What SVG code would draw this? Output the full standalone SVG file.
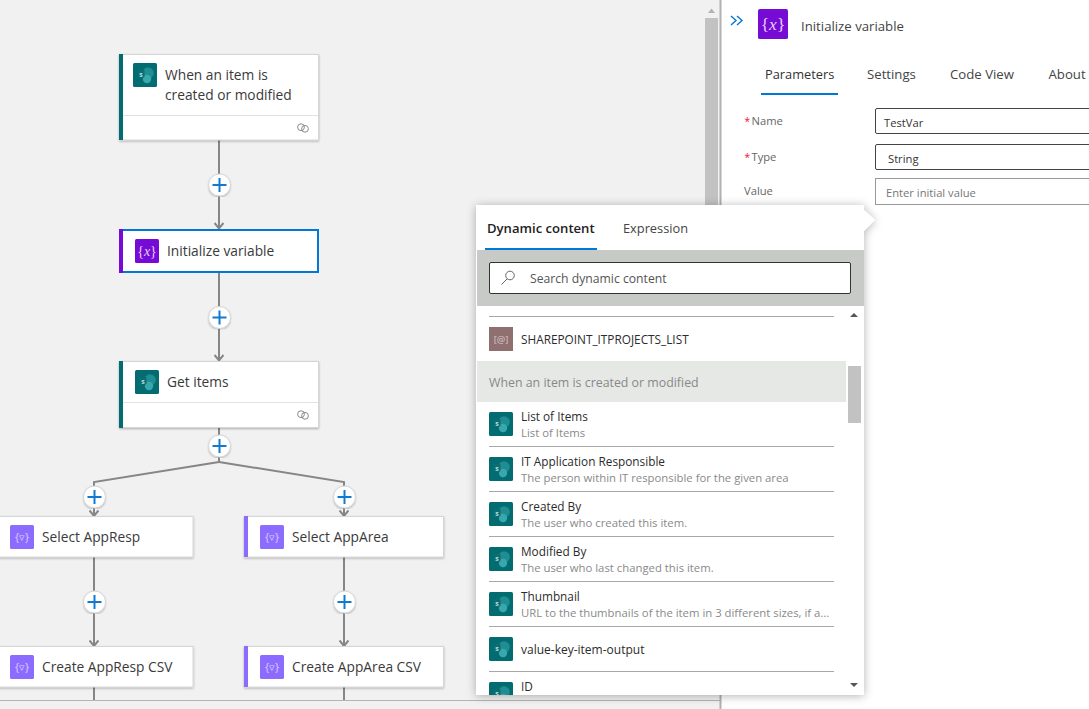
<svg xmlns="http://www.w3.org/2000/svg" width="1089" height="709" viewBox="0 0 1089 709">
<style>
text{font-family:"Open Sans","Noto Sans","Liberation Sans",sans-serif;fill:#333}
.t{font-size:13.75px;fill:#3a3a3a}
.card{fill:#fff;stroke:#d6d6d6;stroke-width:1;filter:url(#sh)}
.div{stroke:#e2e2e2;stroke-width:1}
.c{fill:none;stroke:#868686;stroke-width:2}
.tab{font-size:13.2px;fill:#444}
.lbl{font-size:11.2px;fill:#666}
.rt{font-size:11.8px;fill:#2b2b2b}
.rs{font-size:11.33px;fill:#8a8a8a}
.rl{stroke:#a8a8a8;stroke-width:1}
</style>
<defs>
<filter id="sh" x="-10%" y="-20%" width="120%" height="140%"><feDropShadow dx="0" dy="1" stdDeviation="1.2" flood-color="#000" flood-opacity=".28"/></filter>
<filter id="sh2" x="-10%" y="-10%" width="120%" height="120%"><feDropShadow dx="0" dy="1" stdDeviation="5" flood-color="#000" flood-opacity=".3"/></filter>
<marker id="a" markerUnits="userSpaceOnUse" markerWidth="14" markerHeight="10" refX="11" refY="5" orient="auto"><path d="M5 .5L10.5 5L5 9.500" fill="none" stroke="#868686" stroke-width="2"/></marker>
<symbol id="sp" viewBox="0 0 24 24"><rect width="24" height="24" rx="1.500" fill="#036c70"/><circle cx="15" cy="10" r="5.800" fill="#1f8d92"/><circle cx="14" cy="16" r="4.200" fill="#37a9ae"/><rect x="4.500" y="7" width="7" height="7.500" rx="1" fill="#0d6e72"/><text x="8" y="13.500" font-size="7" text-anchor="middle" style="fill:#b5dfe0;font-weight:700">s</text></symbol>
<symbol id="vr" viewBox="0 0 24 24"><rect width="24" height="24" rx="1.500" fill="#770bd6"/><text x="12" y="16.500" font-size="14" text-anchor="middle" style="fill:#e6d2f7;font-family:'Liberation Serif',serif">{<tspan font-style="italic">x</tspan>}</text></symbol>
<symbol id="dt" viewBox="0 0 24 24"><rect width="24" height="24" rx="1.500" fill="#8c6cff"/><text x="12" y="16" font-size="11" text-anchor="middle" style="fill:#d9cfff">{▿}</text></symbol>
<symbol id="lk" viewBox="0 0 14 10"><circle cx="5" cy="4.200" r="3.400" fill="none" stroke="#8a8a8a"/><circle cx="9" cy="5.800" r="3.400" fill="none" stroke="#8a8a8a"/></symbol>
<symbol id="pl" viewBox="0 0 24 24"><circle cx="12" cy="12" r="11" fill="#fff" stroke="#d5d5d5" style="filter:url(#sh)"/><path d="M5 12H19M12 5V19" stroke="#0f7ad0" stroke-width="2"/></symbol>
</defs>
<rect width="1089" height="709" fill="#f1f1f1"/>
<rect x="720" width="369" height="709" fill="#fff"/>
<path d="M720.500 0V709" stroke="#b0b0b0" stroke-width="2"/>
<path d="M0 700.500H720" stroke="#b4b4b4" stroke-width="1"/>
<g id="canvas-scrollbar"><rect x="705" y="18" width="13" height="190" fill="#c2c2c2"/><path d="M708 13L711.500 8.500L715 13Z" fill="#b3b3b3"/></g>

<g id="connectors">
<path class="c" d="M219 140V229" marker-end="url(#a)"/>
<path class="c" d="M219 272V361" marker-end="url(#a)"/>
<path class="c" d="M219 427V462"/>
<path class="c" d="M219 462L94 482V516.500" marker-end="url(#a)"/>
<path class="c" d="M219 462L344 482V516.500" marker-end="url(#a)"/>
<path class="c" d="M94 557V646.500" marker-end="url(#a)"/>
<path class="c" d="M344 557V646.500" marker-end="url(#a)"/>
<path class="c" d="M94 687V700M344 687V700"/>
</g>
<g id="add-buttons">
<use href="#pl" x="207.500" y="173" width="24" height="24"/>
<use href="#pl" x="207.500" y="305.500" width="24" height="24"/>
<use href="#pl" x="207.500" y="434" width="24" height="24"/>
<use href="#pl" x="82.500" y="485" width="24" height="24"/>
<use href="#pl" x="332.500" y="485" width="24" height="24"/>
<use href="#pl" x="82.500" y="590" width="24" height="24"/>
<use href="#pl" x="332.500" y="590" width="24" height="24"/>
</g>

<g id="node-trigger">
<rect class="card" x="119.500" y="54.500" width="199" height="85.500"/><rect x="119" y="54" width="4" height="86" fill="#036c70"/>
<path class="div" d="M123 115.500H318"/>
<use href="#sp" x="133" y="63" width="24" height="24"/>
<text class="t" x="165" y="80">When an item is</text><text class="t" x="165" y="100">created or modified</text>
<use href="#lk" x="296" y="123" width="14" height="10"/>
</g>
<g id="node-init">
<rect x="120" y="230" width="198" height="42" fill="#fff" stroke="#0078d4" stroke-width="2"/><rect x="119" y="229" width="4" height="44" fill="#770bd6"/>
<use href="#vr" x="135" y="239" width="24" height="24"/>
<text class="t" x="167" y="256">Initialize variable</text>
</g>
<g id="node-getitems">
<rect class="card" x="119.500" y="361.500" width="199" height="66"/><rect x="119" y="361" width="4" height="67" fill="#036c70"/>
<path class="div" d="M123 402.500H318"/>
<use href="#sp" x="135" y="370" width="24" height="24"/>
<text class="t" x="167" y="387">Get items</text>
<use href="#lk" x="296" y="410" width="14" height="10"/>
</g>
<g id="node-select-appresp">
<rect class="card" x="-6" y="516.500" width="199" height="40.500"/>
<use href="#dt" x="10" y="525" width="24" height="24"/>
<text class="t" x="42" y="542">Select AppResp</text>
</g>
<g id="node-select-apparea">
<rect class="card" x="244.500" y="516.500" width="199" height="40.500"/><rect x="244" y="516" width="4" height="41" fill="#8c6cff"/>
<use href="#dt" x="260" y="525" width="24" height="24"/>
<text class="t" x="292" y="542">Select AppArea</text>
</g>
<g id="node-create-appresp">
<rect class="card" x="-6" y="646.500" width="199" height="40.500"/>
<use href="#dt" x="10" y="655" width="24" height="24"/>
<text class="t" x="42" y="672">Create AppResp CSV</text>
</g>
<g id="node-create-apparea">
<rect class="card" x="244.500" y="646.500" width="199" height="40.500"/><rect x="244" y="646" width="4" height="41" fill="#8c6cff"/>
<use href="#dt" x="260" y="655" width="24" height="24"/>
<text class="t" x="292" y="672">Create AppArea CSV</text>
</g>

<g id="details-panel">
<path d="M731 16L736 20.500L731 25M737 16L742 20.500L737 25" fill="none" stroke="#0f7ad0" stroke-width="1.500"/>
<use href="#vr" x="758" y="9" width="30" height="30"/>
<text x="801" y="31" style="font-size:13.2px;fill:#444">Initialize variable</text>
<text class="tab" x="765" y="79" style="fill:#333;font-size:12.8px">Parameters</text><rect x="761" y="93" width="77" height="2" fill="#0078d4"/>
<text class="tab" x="867" y="79">Settings</text><text class="tab" x="950" y="79">Code View</text><text class="tab" x="1048.500" y="79">About</text>
<text x="744.500" y="125" style="font-size:10px;fill:#e81123">*</text><text class="lbl" x="751.500" y="125">Name</text>
<text x="744.500" y="161" style="font-size:10px;fill:#e81123">*</text><text class="lbl" x="751.500" y="161">Type</text>
<text class="lbl" x="744" y="195">Value</text>
<rect x="875.500" y="108.500" width="230" height="25" rx="1.500" fill="#fff" stroke="#444"/>
<rect x="875.500" y="144.500" width="230" height="25" rx="1.500" fill="#fff" stroke="#444"/>
<rect x="875.500" y="178.500" width="230" height="26" fill="#fff" stroke="#999"/>
<text x="884" y="127" style="font-size:11.200px;fill:#333">TestVar</text>
<text x="888" y="163" style="font-size:11.200px;fill:#333">String</text>
<text x="886" y="197" style="font-size:11.200px;fill:#777">Enter initial value</text>
</g>

<g id="dynamic-content-popup">
<path d="M476 205H864V210L875 220L864 231V695H476Z" fill="#fff" style="filter:url(#sh2)"/>
<text x="487" y="233" style="font-size:13.1px;fill:#222;font-weight:600">Dynamic content</text>
<rect x="485" y="248" width="112" height="2" fill="#0078d4"/>
<text x="623" y="233" style="font-size:12.800px;fill:#444">Expression</text>
<rect x="477" y="250" width="387" height="56" fill="#c8cac7"/>
<rect x="489.500" y="262.500" width="361" height="31" rx="1.500" fill="#fff" stroke="#333"/>
<circle cx="510" cy="275.500" r="4.300" fill="none" stroke="#666"/><path d="M507 279L501.500 284.500" stroke="#666"/>
<text x="530" y="283" style="font-size:12.200px;fill:#555">Search dynamic content</text>
<path class="rl" d="M489 316.500H834"/>
<rect x="489" y="327" width="24" height="24" fill="#8f6f6f"/>
<text x="501" y="343" font-size="9.500" text-anchor="middle" style="fill:#d9c9c9">[@]</text>
<text class="rt" x="521" y="344">SHAREPOINT_ITPROJECTS_LIST</text>
<rect x="477" y="361" width="369" height="41" fill="#e6e8e6"/>
<text x="489" y="387" style="font-size:12.360px;fill:#888">When an item is created or modified</text>

<use href="#sp" x="489" y="412" width="24" height="24"/>
<text class="rt" x="521" y="421">List of Items</text><text class="rs" x="521" y="437">List of Items</text>
<path class="rl" d="M489 446.500H834"/>
<use href="#sp" x="489" y="457" width="24" height="24"/>
<text class="rt" x="521" y="466">IT Application Responsible</text><text class="rs" x="521" y="482">The person within IT responsible for the given area</text>
<path class="rl" d="M489 491.500H834"/>
<use href="#sp" x="489" y="502" width="24" height="24"/>
<text class="rt" x="521" y="511">Created By</text><text class="rs" x="521" y="527">The user who created this item.</text>
<path class="rl" d="M489 536.500H834"/>
<use href="#sp" x="489" y="547" width="24" height="24"/>
<text class="rt" x="521" y="556">Modified By</text><text class="rs" x="521" y="572">The user who last changed this item.</text>
<path class="rl" d="M489 581.500H834"/>
<use href="#sp" x="489" y="592" width="24" height="24"/>
<text class="rt" x="521" y="601">Thumbnail</text><text class="rs" x="521" y="617">URL to the thumbnails of the item in 3 different sizes, if a...</text>
<path class="rl" d="M489 626.500H834"/>
<use href="#sp" x="489" y="637" width="24" height="24"/>
<text class="rt" x="521" y="654" style="font-size:12px">value-key-item-output</text>
<path class="rl" d="M489 671.500H834"/>
<svg x="489" y="682" width="24" height="13" viewBox="0 0 24 13"><use href="#sp" width="24" height="24"/></svg>
<text class="rt" x="521" y="691">ID</text>
<path d="M850 317H858L854 313Z" fill="#555"/><rect x="848" y="366" width="13" height="57" fill="#c2c2c2"/><path d="M850 683H858L854 687Z" fill="#555"/>
</g>
</svg>
